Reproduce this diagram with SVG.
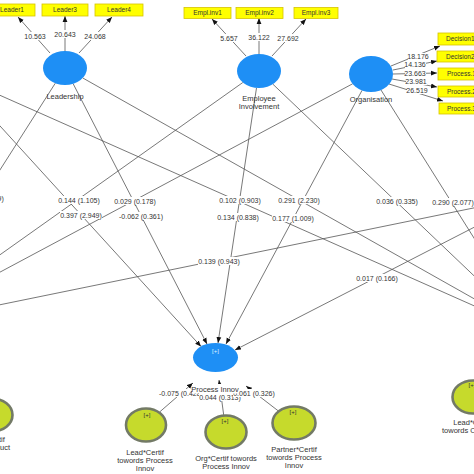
<svg xmlns="http://www.w3.org/2000/svg" width="474" height="474" viewBox="0 0 474 474">
<defs>
<marker id="ah" viewBox="0 0 10 10" refX="10" refY="5" markerWidth="6" markerHeight="6" orient="auto" markerUnits="userSpaceOnUse"><path d="M0,1 L10,5 L0,9 z" fill="#111"/></marker>
<style>
.c line{stroke:#555;stroke-width:0.8;fill:none}
.a{marker-end:url(#ah)}
.lb rect{fill:#fff}
.lb text{font-family:"Liberation Sans",Arial,sans-serif;font-size:7px;fill:#333;text-anchor:middle}
.blue{fill:#1e8ff5}
.green{fill:#c6da2c;stroke:#737a66;stroke-width:2.6}
.box{fill:#ffff00;stroke:#d6c400;stroke-width:0.8}
.bt{font-family:"Liberation Sans",Arial,sans-serif;font-size:6.5px;fill:#333;text-anchor:middle}
.nt{font-family:"Liberation Sans",Arial,sans-serif;font-size:7.5px;fill:#333;text-anchor:middle}
.pl{font-family:"Liberation Sans",Arial,sans-serif;font-size:6px;fill:#333;text-anchor:middle}
</style>
</defs>
<rect width="474" height="474" fill="#fff"/>

<g id="connectors" class="c">
<line class="a" x1="73.2" y1="83.8" x2="207" y2="344"/>
<line class="a" x1="256.5" y1="87.9" x2="218" y2="343"/>
<line class="a" x1="362" y1="90.4" x2="226" y2="344"/>
<line class="a" x1="-51" y1="70" x2="201" y2="346.5"/>
<line class="a" x1="537" y1="195" x2="235" y2="350"/>
<line class="a" x1="159.6" y1="412" x2="193" y2="383"/>
<line class="a" x1="223.7" y1="415" x2="219" y2="380"/>
<line class="a" x1="278.4" y1="411" x2="246" y2="386"/>
<line class="a" x1="82.8" y1="78" x2="533" y2="332"/>
<line class="a" x1="272.9" y1="84.2" x2="533" y2="332"/>
<line class="a" x1="381" y1="90" x2="533" y2="332"/>
<line class="a" x1="-57" y1="70" x2="533" y2="332"/>
<line class="a" x1="55.3" y1="83.2" x2="-99" y2="325"/>
<line class="a" x1="242.8" y1="82.5" x2="-99" y2="325"/>
<line class="a" x1="352.6" y1="83.8" x2="-99" y2="325"/>
<line x1="537" y1="195" x2="-99" y2="325"/>
<line class="a" x1="50" y1="53" x2="18" y2="17"/>
<line class="a" x1="65" y1="51" x2="65" y2="16"/>
<line class="a" x1="79" y1="53" x2="112" y2="17"/>
<line class="a" x1="246" y1="56" x2="212" y2="19"/>
<line class="a" x1="259" y1="54" x2="259" y2="18"/>
<line class="a" x1="272" y1="56" x2="306" y2="19"/>
<line class="a" x1="391" y1="66" x2="440" y2="46"/>
<line class="a" x1="393" y1="70" x2="437" y2="61"/>
<line class="a" x1="393" y1="74" x2="437" y2="73"/>
<line class="a" x1="392" y1="79" x2="437" y2="87"/>
<line class="a" x1="389" y1="84" x2="443" y2="101"/>
</g>

<g id="path-labels" class="lb">
<rect x="-38" y="194" width="42" height="8"/><text x="-17" y="200.5">0.218 (1.919)</text>
<rect x="58" y="196" width="42" height="8"/><text x="79" y="202.5">0.144 (1.105)</text>
<rect x="60" y="211" width="42" height="8"/><text x="81" y="217.5">0.397 (2.949)</text>
<rect x="114" y="197" width="42" height="8"/><text x="135" y="203.5">0.029 (0.178)</text>
<rect x="119" y="212" width="44" height="8"/><text x="141" y="218.5">-0.062 (0.361)</text>
<rect x="219" y="196" width="42" height="8"/><text x="240" y="202.5">0.102 (0.903)</text>
<rect x="217" y="213" width="42" height="8"/><text x="238" y="219.5">0.134 (0.838)</text>
<rect x="278" y="196" width="42" height="8"/><text x="299" y="202.5">0.291 (2.230)</text>
<rect x="272" y="214" width="42" height="8"/><text x="293" y="220.5">0.177 (1.009)</text>
<rect x="376" y="197" width="42" height="8"/><text x="397" y="203.5">0.036 (0.335)</text>
<rect x="432" y="198" width="42" height="8"/><text x="453" y="204.5">0.290 (2.077)</text>
<rect x="198" y="257" width="42" height="8"/><text x="219" y="263.5">0.139 (0.943)</text>
<rect x="356" y="274" width="42" height="8"/><text x="377" y="280.5">0.017 (0.166)</text>
<rect x="159" y="389" width="44" height="8"/><text x="181" y="395.5">-0.075 (0.428)</text>
<rect x="199" y="393" width="42" height="8"/><text x="220" y="399.5">0.044 (0.313)</text>
<rect x="233" y="389" width="42" height="8"/><text x="254" y="395.5">0.061 (0.326)</text>
<rect x="24" y="32" width="22" height="8"/><text x="35" y="38.5">10.563</text>
<rect x="54" y="30" width="22" height="8"/><text x="65" y="36.5">20.643</text>
<rect x="84" y="32" width="22" height="8"/><text x="95" y="38.5">24.068</text>
<rect x="220" y="34" width="18" height="8"/><text x="229" y="40.5">5.657</text>
<rect x="248" y="33" width="22" height="8"/><text x="259" y="39.5">36.122</text>
<rect x="277" y="34" width="22" height="8"/><text x="288" y="40.5">27.692</text>
<rect x="408" y="53" width="21" height="7"/><text x="418" y="59">18.176</text>
<rect x="405" y="61" width="21" height="7"/><text x="415" y="67">14.136</text>
<rect x="405" y="69" width="21" height="7"/><text x="415" y="75.5">23.663</text>
<rect x="406" y="78" width="21" height="7"/><text x="416" y="84">23.981</text>
<rect x="407" y="87" width="21" height="7"/><text x="417" y="93">26.519</text>
</g>

<g id="Leader1"><rect class="box" x="-11" y="4" width="46" height="12"/><text class="bt" x="12" y="12.3">Leader1</text></g>
<g id="Leader3"><rect class="box" x="42" y="4" width="46" height="12"/><text class="bt" x="65" y="12.3">Leader3</text></g>
<g id="Leader4"><rect class="box" x="95" y="4" width="48" height="12"/><text class="bt" x="119" y="12.3">Leader4</text></g>
<g id="Empl1"><rect class="box" x="184" y="7.5" width="47" height="11"/><text class="bt" x="207.5" y="15.3">Empl.inv1</text></g>
<g id="Empl2"><rect class="box" x="236" y="7.5" width="47" height="11"/><text class="bt" x="259.5" y="15.3">Empl.inv2</text></g>
<g id="Empl3"><rect class="box" x="294" y="7.5" width="44" height="11"/><text class="bt" x="316" y="15.3">Empl.inv3</text></g>
<g id="Decision1"><rect class="box" x="438" y="33" width="45" height="12"/><text class="bt" x="446" y="41.3" style="text-anchor:start">Decision1</text></g>
<g id="Decision2"><rect class="box" x="437" y="51" width="45" height="11"/><text class="bt" x="446" y="59" style="text-anchor:start">Decision2</text></g>
<g id="Process1"><rect class="box" x="438" y="68" width="45" height="12"/><text class="bt" x="447" y="76.3" style="text-anchor:start">Process.1</text></g>
<g id="Process2"><rect class="box" x="438" y="86" width="45" height="11"/><text class="bt" x="447" y="94" style="text-anchor:start">Process.2</text></g>
<g id="Process3"><rect class="box" x="439" y="103" width="45" height="11"/><text class="bt" x="447" y="111" style="text-anchor:start">Process.3</text></g>

<g id="Leadership"><ellipse class="blue" cx="65" cy="68" rx="22" ry="17"/><text class="nt" x="65" y="98.5">Leadership</text></g>
<g id="EmployeeInvolvement"><ellipse class="blue" cx="259" cy="71" rx="22" ry="17"/><text class="nt" x="259" y="100.5">Employee</text><text class="nt" x="259" y="108.5">Involvement</text></g>
<g id="Organisation"><ellipse class="blue" cx="371" cy="74" rx="22" ry="18"/><text class="nt" x="371" y="101.5">Organisation</text></g>
<g id="ProcessInnov"><ellipse class="blue" cx="215.5" cy="357.5" rx="22.5" ry="14.5"/><text class="pl" x="215.5" y="353" style="fill:#dfefff">[+]</text>
<rect x="192" y="384" width="46" height="9.5" fill="#fff"/><text class="nt" x="215" y="391.5">Process Innov</text></g>

<g id="LeadCertifProcess"><ellipse class="green" cx="146" cy="425" rx="20" ry="16.5"/><text class="pl" x="147" y="417">[+]</text>
<text class="nt" x="145" y="455">Lead*Certif</text><text class="nt" x="145" y="463">towords Process</text><text class="nt" x="145" y="471">Innov</text></g>
<g id="OrgCertifProcess"><ellipse class="green" cx="226" cy="432" rx="20.5" ry="16.5"/><text class="pl" x="225" y="423">[+]</text>
<text class="nt" x="226" y="461">Org*Certif towords</text><text class="nt" x="226" y="469">Process Innov</text></g>
<g id="PartnerCertifProcess"><ellipse class="green" cx="294" cy="423" rx="21.5" ry="16.5"/><text class="pl" x="293" y="414">[+]</text>
<text class="nt" x="294" y="452">Partner*Certif</text><text class="nt" x="294" y="460">towords Process</text><text class="nt" x="294" y="468">Innov</text></g>
<g id="LeadCertifProduct"><ellipse class="green" cx="-8" cy="415" rx="20.5" ry="16.5"/>
<text class="nt" x="-14" y="442">Lead*Certif</text><text class="nt" x="-17" y="450">towords Product</text></g>
<g id="LeadCertifOrg"><ellipse class="green" cx="473" cy="397" rx="20.5" ry="16.5"/><text class="pl" x="472" y="387">[+]</text>
<text class="nt" x="472" y="425">Lead*Certif</text><text class="nt" x="442" y="433" style="text-anchor:start">towords Organisational</text></g>
</svg>
